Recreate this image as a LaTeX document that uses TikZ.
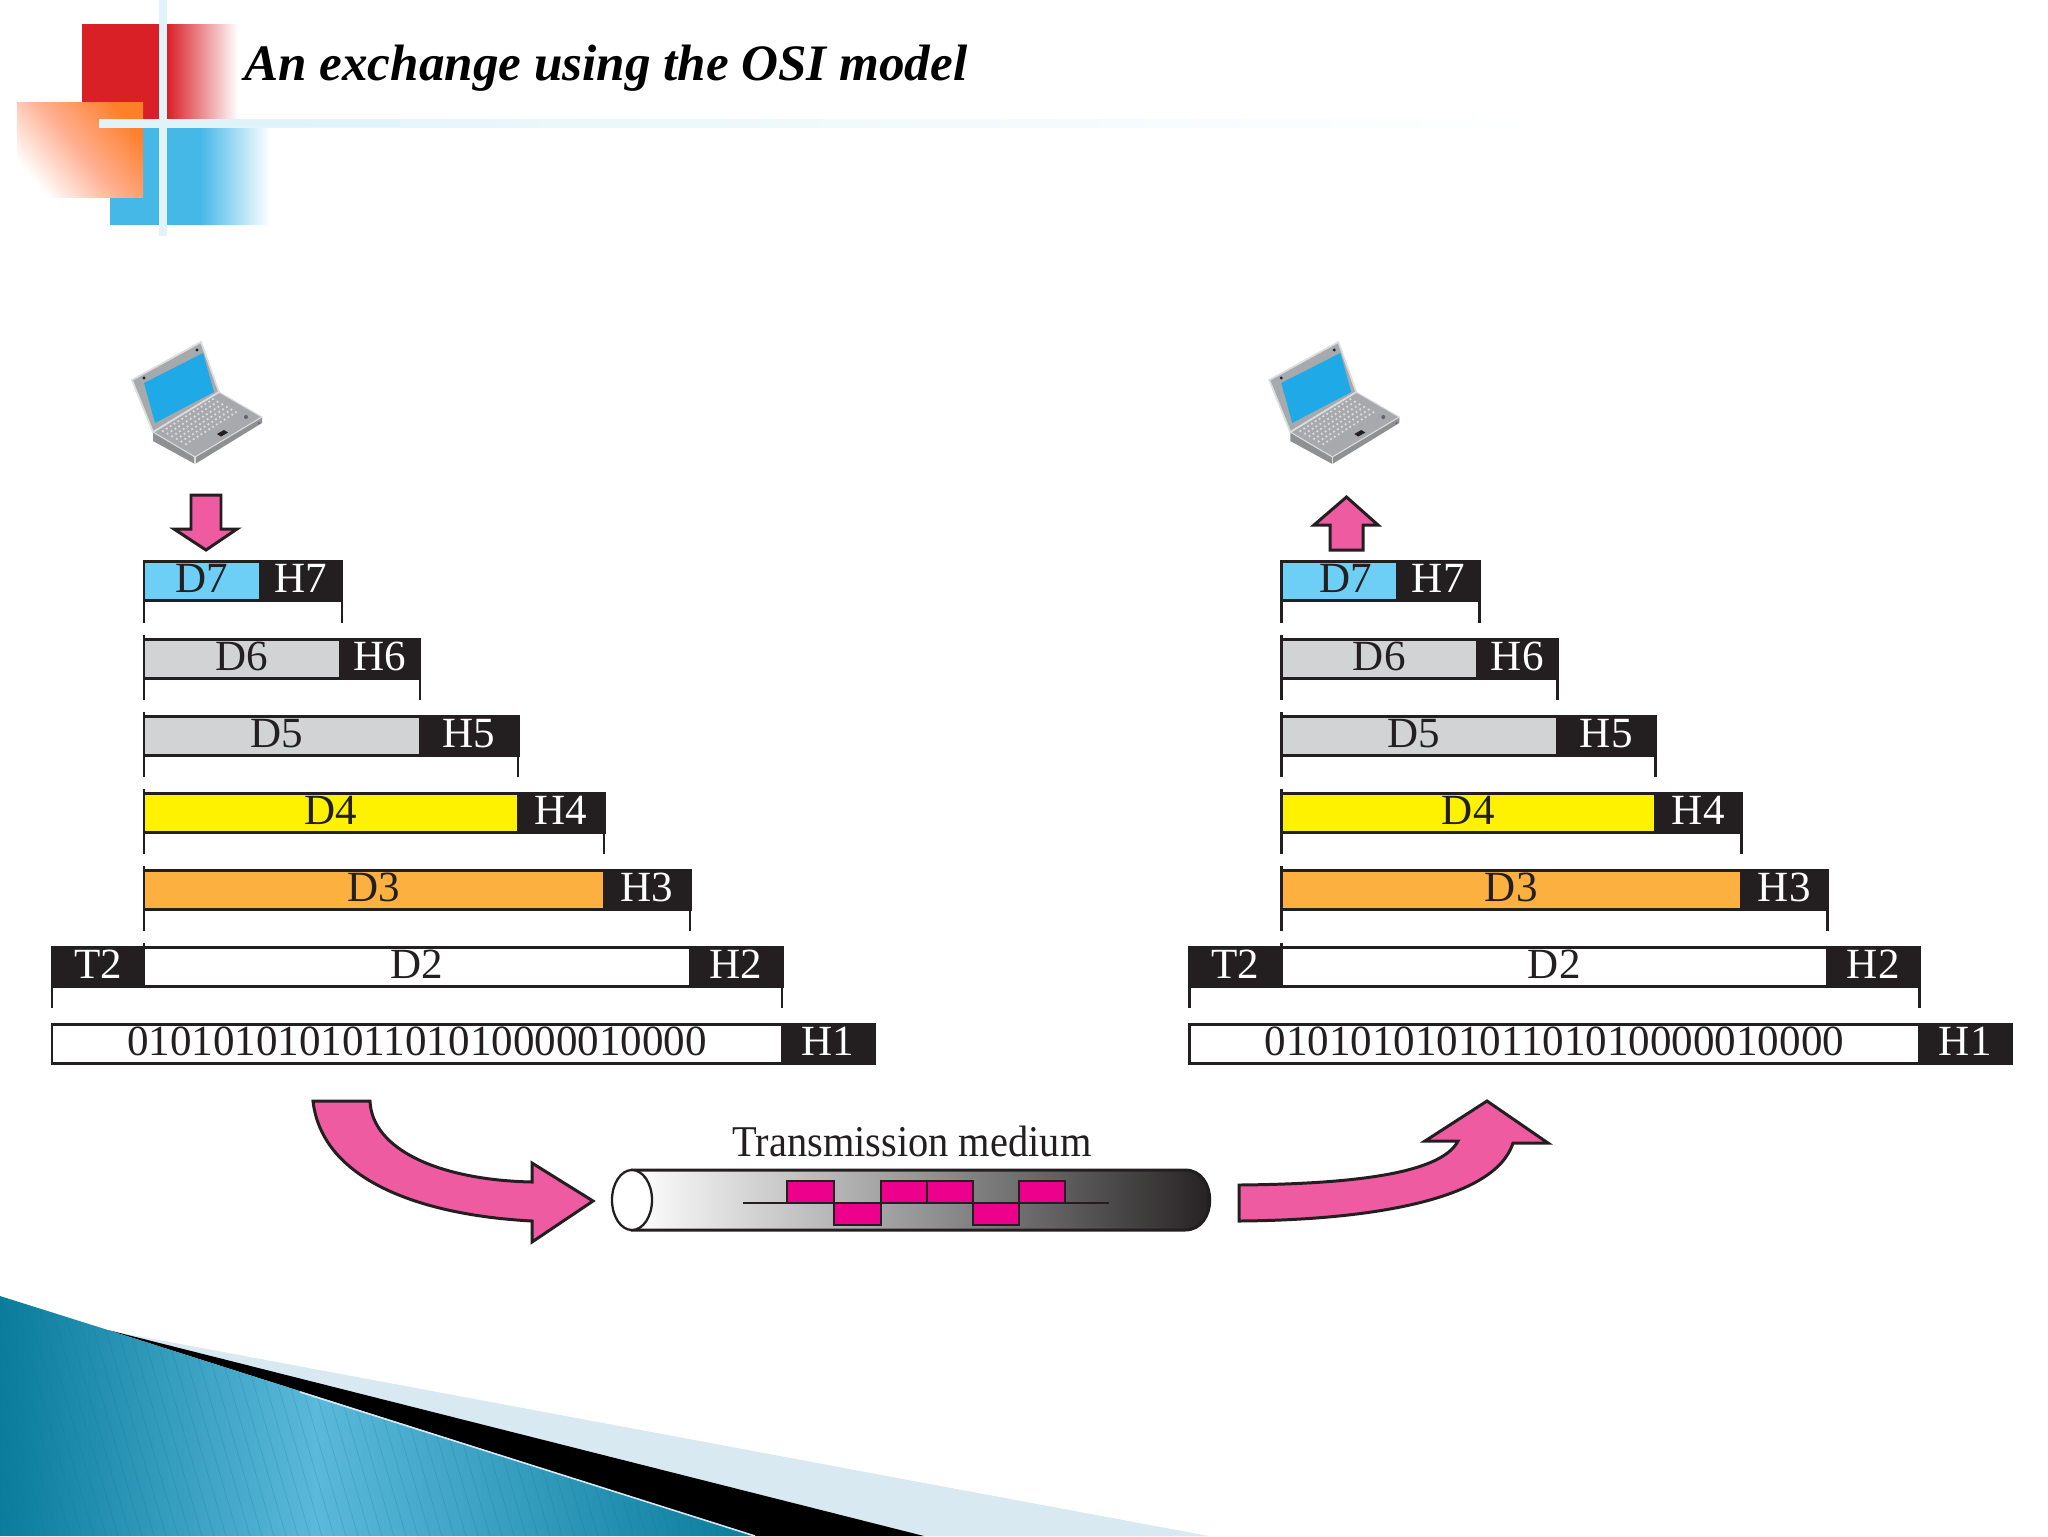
\documentclass[tikz,border=0pt]{standalone}
\usepackage{fontspec}
\usetikzlibrary{shapes.geometric}
\setmainfont{Liberation Serif}
\definecolor{inkdark}{HTML}{231F20}
\definecolor{cellblue}{HTML}{6DCFF6}
\definecolor{cellgrey}{HTML}{D1D3D4}
\definecolor{cellyellow}{HTML}{FFF200}
\definecolor{cellorange}{HTML}{FBB040}
\definecolor{arrowpink}{HTML}{EF5BA1}
\definecolor{pulsepink}{HTML}{EC008C}
\definecolor{barlight}{HTML}{E0F3F9}
\definecolor{decored}{HTML}{D92027}
\definecolor{decoblue}{HTML}{45B8E8}
\definecolor{decoorange}{HTML}{FF7F2A}
\definecolor{decopeach}{HTML}{FFAE90}
\definecolor{teallight}{HTML}{5BB9DB}
\definecolor{tealdark}{HTML}{0A7C9C}
\definecolor{swooshlight}{HTML}{D9E9F2}
\definecolor{lapbase}{HTML}{A7A9AC}
\definecolor{lapedge}{HTML}{DCDDDE}
\definecolor{lapscreen}{HTML}{1FA9E6}
\tikzset{
  cell/.style={draw=inkdark,line width=1.7pt,inner sep=0pt,outer sep=0pt,anchor=north west,
    minimum height=39*0.02cm,text height=17.6pt,text depth=4.5pt,font=\fontsize{24.5}{26}\selectfont,text=inkdark},
  blackcell/.style={cell,fill=inkdark,text=white},
  tick/.style={draw=inkdark,line width=1.5pt,shorten >=9pt},
  stub/.style={draw=inkdark,line width=1.5pt},
  bigarrow/.style={draw=inkdark,line width=1.7pt,fill=arrowpink,line join=miter},
  pulse/.style={draw=inkdark,line width=1.2pt,fill=pulsepink},
}
\newcommand{\osistack}[2]{%
  \foreach \n/\tp/\dr/\hr/\col in {7/561/260/342/cellblue,6/639/340/420/cellgrey,5/716/420/518/cellgrey,4/793/518/604/cellyellow,3/870/604/690/cellorange}{
    \node[cell,fill=\col,minimum width={(\dr-144)*0.02cm}] (#1d\n) at (144,\tp) {\ifnum\n=5 \hspace*{-6pt}\fi\ifnum\n=7 \hspace*{#2}\fi D\n};
    \node[blackcell,minimum width={(\hr-\dr)*0.02cm}] (#1h\n) at (\dr,\tp) {H\n};
  }
  \node[blackcell,minimum width=92*0.02cm] (#1t2) at (52,947) {T2};
  \node[cell,fill=white,minimum width=546*0.02cm] (#1d2) at (144,947) {D2};
  \node[blackcell,minimum width=92*0.02cm] (#1h2) at (690,947) {H2};
  \node[cell,fill=white,minimum width=730*0.02cm] (#1d1) at (52,1024) {010101010101101010000010000};
  \node[blackcell,minimum width=92*0.02cm] (#1h1) at (782,1024) {H1};
  \foreach \a/\b in {7/6,6/5,5/4,4/3}{
    \draw[tick] (#1d\a.south west) -- (#1d\b.north west);
    \draw[stub] (#1d\b.north west) -- ++(0,-4);
    \draw[tick] (#1h\a.south east) -- (#1h\a.south east |- #1d\b.north);
  }
  \draw[tick] (#1d3.south west) -- (#1d2.north west);
  \draw[stub] (#1d2.north west) -- ++(0,-4);
  \draw[tick] (#1h3.south east) -- (#1h3.south east |- #1d2.north);
  \draw[tick] (#1t2.south west) -- (#1d1.north west);
  \draw[tick] (#1h2.south east) -- (#1h2.south east |- #1d1.north);
}
\newcommand{\laptopicon}{%
  \fill[lapbase!85!black] (153,432) -- (153,441) -- (195,464) -- (262,423) -- (262,417) -- (195,457) -- cycle;
  \draw[lapedge,line width=.8pt] (195,457) -- (195,464);
  \fill[lapbase,draw=lapedge,line width=.6pt] (153,432) -- (219,392) -- (262,417) -- (195,457) -- cycle;
  \fill[lapbase,draw=lapedge,line width=1pt] (132,380) -- (201,342) -- (219,392) -- (153,432) -- cycle;
  \fill[lapscreen] (144,383) -- (203,353) -- (214,392) -- (155,423) -- cycle;
  \fill[inkdark] (144,378) circle (1.6) (197,350) circle (1.6);
  \foreach \i in {0,...,13}{\foreach \j in {0,...,5}{
    \fill[lapedge] ({163+3.85*\i+4.6*\j},{431-2.45*\i+2.6*\j}) circle (1.25);
  }}
  \fill[inkdark] (217,434) -- (224,430) -- (228,432.5) -- (221,436.5) -- cycle;
  \fill[inkdark!70] (246,417) circle (2) (259,423) circle (1);
}
\begin{document}
\begin{tikzpicture}[x=0.02cm,y=-0.02cm]
\fill[white] (0,0) rectangle (2048,1536);
\useasboundingbox (0,0) rectangle (2048,1536);
% top-left decoration
\fill[decored] (82,24) rectangle (167,120);
\shade[left color=decored,right color=white] (167,24) rectangle (238,120);
\fill[decoblue] (110,127) rectangle (201,224.6);
\shade[left color=decoblue,right color=white] (200,120) rectangle (270,224.6);
\shade[top color=decoorange,bottom color=white,middle color=decopeach,shading angle=-50] (17,102) rectangle (143,197);
\shade[left color=barlight,right color=white] (99,119) rectangle (1540,127);
\fill[barlight] (99,119) rectangle (400,127);
\fill[barlight] (159,0) rectangle (167,236);
\node[anchor=base west,inner sep=0pt,font=\fontsize{29.1}{32}\selectfont\bfseries\itshape] (title) at (244,80) {An exchange using the OSI model};
% bottom decoration
\fill[swooshlight] (100,1329) -- (1208,1536) -- (924,1536) -- cycle;
\fill[swooshlight] (166,1343) -- (1208,1536) -- (755,1536) -- cycle;
\fill[black] (108,1330) -- (924,1536) -- (755,1536) -- cycle;
\begin{scope}
  \clip (0,1296) -- (108,1330) -- (755,1536) -- (0,1536) -- cycle;
  \shade[left color=tealdark,right color=teallight] (0,1296) rectangle (316,1536);
  \shade[left color=teallight,right color=tealdark] (315,1296) rectangle (755,1536);
  \foreach \k in {-60,-48,...,760}{\draw[tealdark,opacity=.25,line width=.4pt] (\k,1296) -- ({\k+70},1536);}
\end{scope}
\draw[swooshlight,line width=.9pt] (300,1392) -- (755,1536);
% stacks
\osistack{l}{0pt}
\laptopicon
\draw[bigarrow] (191,495) -- (221,495) -- (221,529) -- (237,529) -- (206,550) -- (174,529) -- (191,529) -- cycle;
\begin{scope}[xshift=22.75cm]
  \osistack{r}{7.4pt}
  \laptopicon
\end{scope}
\draw[bigarrow] (1346.5,497) -- (1378,525) -- (1363,525) -- (1363,550) -- (1330,550) -- (1330,525) -- (1314,525) -- cycle;
% curved arrows
\draw[bigarrow] (313,1101) -- (370,1101) .. controls (372,1150) and (440,1180) .. (532,1182) -- (532,1163) -- (593,1201) -- (532,1242) -- (532,1221) .. controls (420,1215) and (322,1180) .. (313,1101) -- cycle;
\draw[bigarrow] (1239,1185) .. controls (1340,1184) and (1440,1176) .. (1458,1141) -- (1425,1141) -- (1487,1101) -- (1548,1143) -- (1513,1143) .. controls (1495,1200) and (1370,1220) .. (1239,1221) -- cycle;
% tube
\draw[inkdark,line width=1.7pt,left color=white,right color=inkdark,middle color=black!42] (632,1170) -- (1185,1170) .. controls (1218,1170) and (1218,1230) .. (1185,1230) -- (632,1230) -- cycle;
\node[draw=inkdark,line width=1.3pt,fill=white,ellipse,minimum width=40*0.02cm,minimum height=60*0.02cm,inner sep=0pt] (tubeend) at (632,1200) {};
\draw[pulse] (787,1181) rectangle (834,1203);
\draw[pulse] (834,1203) rectangle (881,1225);
\draw[pulse] (881,1181) rectangle (927,1203);
\draw[pulse] (927,1181) rectangle (973,1203);
\draw[pulse] (973,1203) rectangle (1019,1225);
\draw[pulse] (1019,1181) rectangle (1065,1203);
\draw[inkdark,line width=1.3pt] (743,1203) -- (1109,1203);
\node[font=\fontsize{25}{27}\selectfont,text=inkdark,inner sep=0pt,anchor=base] (medium) at (912,1156) {\scalebox{0.92}[1]{Transmission medium}};
\end{tikzpicture}
\end{document}
